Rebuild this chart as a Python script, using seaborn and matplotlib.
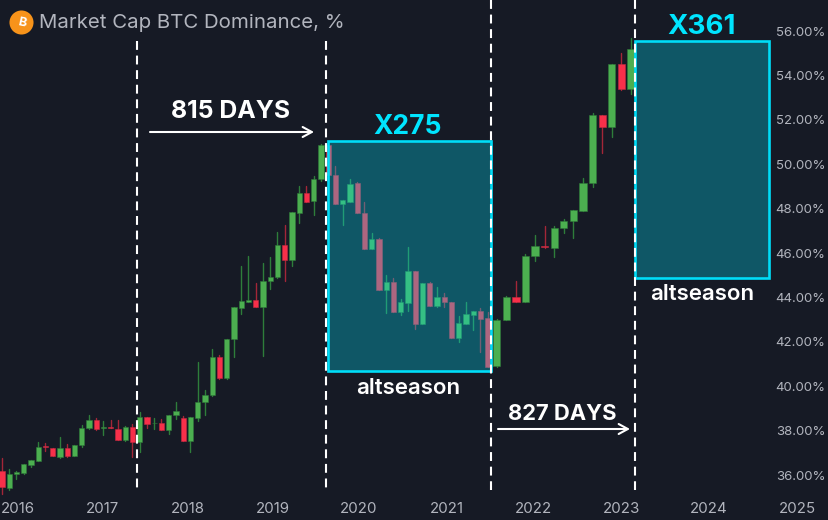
import numpy as np
import pandas as pd
import matplotlib
matplotlib.use("Agg")
import matplotlib.pyplot as plt
from matplotlib.patches import Rectangle
import seaborn as sns

W, H = 829, 520

# Monthly candles of BTC market-cap dominance (%)
opens = [36.18,35.43,36.04,36.07,36.45,36.64,37.29,37.21,36.81,37.21,36.85,37.33,38.10,38.49,38.13,38.14,38.08,37.56,38.16,37.48,
         38.61,38.32,38.32,38.04,38.70,38.56,37.53,38.59,39.27,39.59,41.31,40.35,42.11,43.54,43.81,43.87,43.58,44.72,44.90,46.37,
         45.68,47.82,48.70,48.34,49.32,50.88,49.51,48.21,48.31,49.14,47.82,46.18,46.63,44.33,44.71,43.34,43.76,45.19,42.80,44.66,
         43.61,44.03,43.78,42.19,42.82,43.21,43.37,43.06,40.89,42.98,44.03,43.79,45.87,46.32,46.24,47.11,47.43,47.91,49.14,52.20,
         51.66,54.50,53.39]
highs = [36.75,36.25,36.16,36.49,36.67,37.48,37.45,37.23,37.69,37.41,37.36,38.23,38.71,38.58,38.41,38.47,38.47,38.20,38.28,38.83,
         38.63,38.55,38.53,38.71,39.29,38.68,38.63,41.10,39.84,41.67,41.39,42.12,43.56,45.41,45.88,44.63,45.56,45.82,46.95,47.26,
         47.86,49.02,49.02,49.47,50.89,50.89,49.92,48.39,49.35,49.18,48.28,46.92,46.69,44.99,44.86,43.93,46.29,45.20,44.65,44.68,
         44.45,44.18,43.79,43.16,43.78,43.39,43.51,43.36,43.01,44.08,44.74,45.94,46.80,47.22,47.22,47.52,47.94,49.36,52.29,52.22,
         54.51,55.01,55.67]
lows = [35.14,35.32,35.83,36.06,36.37,36.63,37.09,36.84,36.76,36.82,36.84,37.26,38.08,38.04,37.80,38.10,37.56,37.53,36.81,37.03,
        38.11,38.08,38.02,37.83,38.53,37.51,37.05,38.43,38.70,39.57,40.34,40.34,41.33,43.25,43.79,43.57,41.37,44.36,44.89,44.75,
        45.41,47.37,48.30,47.70,49.26,49.50,48.19,47.26,48.30,47.80,46.17,46.17,44.32,43.30,43.33,43.22,43.39,42.59,42.79,43.60,
        43.55,43.55,42.17,42.00,42.80,42.53,41.54,40.85,40.88,42.97,43.78,43.78,45.65,46.21,45.82,46.89,46.68,47.89,48.96,50.50,
        51.22,53.36,53.18]
closes = [35.44,36.06,36.12,36.48,36.66,37.26,37.26,36.85,37.21,36.84,37.35,38.11,38.49,38.08,38.16,38.11,37.57,38.17,37.48,38.61,
          38.28,38.35,38.04,38.70,38.87,37.53,38.61,39.29,39.60,41.31,40.35,42.11,43.55,43.82,43.87,43.58,44.74,44.90,46.37,45.67,
          47.85,48.70,48.31,49.33,50.88,49.51,48.21,48.37,49.12,47.82,46.18,46.63,44.33,44.71,43.34,43.78,45.19,42.80,44.63,43.61,
          44.03,43.78,42.19,42.83,43.24,43.37,43.03,40.86,43.00,44.03,43.79,45.88,46.30,46.27,47.13,47.46,47.92,49.15,52.22,51.66,
          54.50,53.37,55.19]

year_labels = ["2016","2017","2018","2019","2020","2021","2022","2023","2024","2025"]
year_slots = [2.2,13.9,25.7,37.4,49.2,61.3,73.3,85.4,97.5,109.7]
price_ticks = list(range(36, 58, 2))

BG = "#161A25"; GREEN = "#4CAF50"; RED = "#F7304A"
GREEN_W = "#2E7D3A"; RED_W = "#A32638"
CYAN = "#00E5FF"; TXT = "#B2B5BE"

sns.set_theme(style="dark", rc={"figure.facecolor": BG, "axes.facecolor": BG,
                                "axes.grid": False, "lines.scale_dashes": False})
plt.rcParams["font.family"] = ["Inter", "DejaVu Sans"]

# x slots: the last stretch of the chart runs on a wider candle spacing
slots = np.concatenate([np.arange(68.0), 68.24 + 1.322 * np.arange(15)])
widths = np.where(slots < 68, 0.74, 1.0)

df = pd.DataFrame({"slot": slots, "open": opens, "high": highs, "low": lows, "close": closes, "w": widths})
df["up"] = df["close"] >= df["open"]
df["id"] = np.arange(len(df))

fig = plt.figure(figsize=(W / 100, H / 100), dpi=100)
ax = fig.add_axes([0, 0, 1, 1])

wicks = pd.concat([df.assign(v=df["high"]), df.assign(v=df["low"])])
sns.lineplot(data=wicks, x="slot", y="v", units="id", estimator=None, hue="up",
             palette={True: GREEN_W, False: RED_W}, legend=False, lw=1.0, ax=ax, zorder=2)
for up, col in ((True, GREEN), (False, RED)):
    d = df[df["up"] == up]
    ax.bar(d["slot"], (d["close"] - d["open"]).abs().clip(lower=0.04), bottom=d[["open", "close"]].min(axis=1),
           width=d["w"], color=col, edgecolor="#2f7a3a" if up else "#c42a40", linewidth=0.4, zorder=3)

ax.set_xlim(-2 / 7.25, (W - 2) / 7.25)
ax.set_ylim(56 - (H - 31) / 22.2, 56 + 31 / 22.2)
ax.set_xlabel(""); ax.set_ylabel("")
ax.set_xticks(year_slots, year_labels)
ax.set_yticks(price_ticks, [f"{v:.2f}%" for v in price_ticks])
ax.yaxis.tick_right()
ax.tick_params(axis="x", length=0, pad=-13.2, labelsize=10.8, labelcolor=TXT)
ax.tick_params(axis="y", length=0, pad=-2.6, labelsize=9.5, labelcolor=TXT)
for lab in ax.get_yticklabels():
    lab.set_ha("right")
sns.despine(ax=ax, left=True, bottom=True, right=True, top=True)

def fx(px): return px / W
def fy(py): return 1 - py / H
T = ax.transAxes

for x0, x1, y0, y1 in ((327.5, 491, 141, 371), (635, 769, 41, 278)):
    ax.add_patch(Rectangle((fx(x0), fy(y1)), fx(x1 - x0), (y1 - y0) / H, transform=T,
                           facecolor=CYAN, alpha=0.3, edgecolor="none", zorder=4))
    ax.add_patch(Rectangle((fx(x0), fy(y1)), fx(x1 - x0), (y1 - y0) / H, transform=T,
                           facecolor="none", edgecolor="#00DDF8", lw=1.9, zorder=5))

for x, top in ((137, 41), (326, 41), (491.5, 0), (635, 0)):
    ax.plot([fx(x), fx(x)], [fy(top), fy(490)], transform=T, color="white", lw=1.5,
            ls=(0, (6.4, 4.1)), dash_capstyle="butt", zorder=6)

def arrow(x0, x1, y):
    ax.annotate("", xy=(fx(x1), fy(y)), xytext=(fx(x0), fy(y)), xycoords=T, textcoords=T, zorder=7,
                arrowprops=dict(arrowstyle="->,head_length=0.55,head_width=0.3", color="white", lw=1.5,
                                shrinkA=0, shrinkB=0))
arrow(150, 314, 132)
arrow(498, 630, 429)

def label(x, y, s, size, color="white", weight="bold"):
    ax.text(fx(x), fy(y), s, transform=T, ha="center", va="center", fontsize=size,
            color=color, fontweight=weight, zorder=8)
label(231, 111, "815 DAYS", 17.8)
label(562, 414, "827 DAYS", 15.8)
label(408, 127, "X275", 19)
ax.texts[-1].set_color(CYAN)
label(702, 27, "X361", 20, CYAN)
label(408, 388, "altseason", 16, weight="semibold")
label(702, 294, "altseason", 16, weight="semibold")

ax.text(fx(39), fy(23), "Market Cap BTC Dominance, %", transform=T, ha="left", va="center",
        fontsize=14.7, color=TXT, zorder=8)
ax.scatter([fx(21.5)], [fy(22)], s=300, color="#F7931A", transform=T, zorder=8, linewidths=0, clip_on=False)
ax.text(fx(21.5), fy(22.5), "B", transform=T, ha="center", va="center", fontsize=9, color="white",
        fontweight="bold", rotation=-12, zorder=9)

fig.savefig("out.png", dpi=100, facecolor=BG)
